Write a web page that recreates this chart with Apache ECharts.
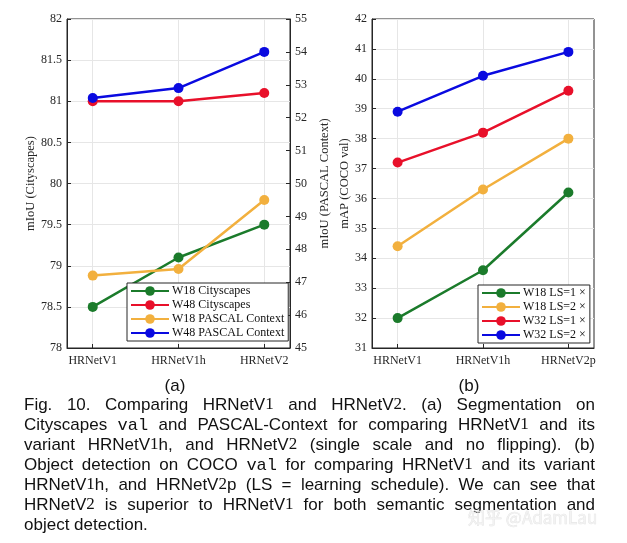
<!DOCTYPE html>
<html lang="en">
<head>
  <meta charset="UTF-8">
  <title>HRNetV1 vs HRNetV2</title>
  <style>
    html, body { margin: 0; padding: 0; background: #fff; }
    #chart { width: 627px; height: 543px; }
  </style>
</head>
<body>
  <div id="chart"></div>
  <script src="https://cdn.jsdelivr.net/npm/echarts@6/dist/echarts.min.js"></script>
  <script>
    // --- data ---
    const segCategories = ['HRNetV1', 'HRNetV1h', 'HRNetV2']
    const detCategories = ['HRNetV1', 'HRNetV1h', 'HRNetV2p']

    const w18Cityscapes = [78.5, 79.1, 79.5]
    const w48Cityscapes = [81.0, 81.0, 81.1]
    const w18Pascal = [47.2, 47.4, 49.5]
    const w48Pascal = [52.6, 52.9, 54.0]

    const w18LS1 = [32.0, 33.6, 36.2]
    const w18LS2 = [34.4, 36.3, 38.0]
    const w32LS1 = [37.2, 38.2, 39.6]
    const w32LS2 = [38.9, 40.1, 40.9]

    const segNames = ['W18 Cityscapes', 'W48 Cityscapes', 'W18 PASCAL Context', 'W48 PASCAL Context']
    const detNames = ['W18 LS=1 ×', 'W18 LS=2 ×', 'W32 LS=1 ×', 'W32 LS=2 ×']

    const GREEN = '#1b7b2b', RED = '#e8102a', ORANGE = '#f2b03e', BLUE = '#0a0ae0'
    const INK = '#262626'
    const SERIF = '"Liberation Serif", "DejaVu Serif", serif'
    const SANS = '"Liberation Sans", Arial, sans-serif'
    const MONO = '"Liberation Mono", "DejaVu Sans Mono", monospace'

    const pairs = arr => arr.map((v, i) => [i, v])

    function xAxisFor(gridIndex, cats) {
      return {
        type: 'value', gridIndex: gridIndex, min: -0.3, max: 2.3,
        axisLine: { show: true, onZero: false, lineStyle: { color: INK } },
        axisTick: { show: true, inside: true, length: 4, customValues: [0, 1, 2], lineStyle: { color: INK } },
        axisLabel: {
          customValues: [0, 1, 2], margin: 7,
          formatter: v => cats[Math.round(v)] || '',
          fontFamily: SERIF, fontSize: 12, color: INK
        },
        splitLine: { show: true, lineStyle: { color: '#e6e6e6' } }
      }
    }

    function yAxisFor(gridIndex, min, max, interval, name, gap, pos, grid) {
      return {
        type: 'value', gridIndex: gridIndex, position: pos,
        min: min, max: max, interval: interval,
        name: name, nameLocation: 'middle', nameGap: gap,
        nameTextStyle: { fontFamily: SERIF, fontSize: 12.5, color: INK },
        axisLine: { show: true, onZero: false, lineStyle: { color: INK } },
        axisTick: { show: true, inside: true, length: 4, lineStyle: { color: INK } },
        axisLabel: { margin: 5, fontFamily: SERIF, fontSize: 12, color: INK },
        splitLine: { show: grid, lineStyle: { color: '#e6e6e6' } }
      }
    }

    function lineSeries(name, data, color, xi, yi) {
      return {
        name: name, type: 'line', xAxisIndex: xi, yAxisIndex: yi,
        data: pairs(data), symbol: 'circle', symbolSize: 10,
        lineStyle: { width: 2.5, color: color },
        itemStyle: { color: color },
        emphasis: { disabled: true }, animation: false
      }
    }

    function legendFor(names, left, top) {
      return {
        data: names, orient: 'vertical', left: left, top: top,
        itemWidth: 38, itemHeight: 12, itemGap: 2,
        padding: [2, 4, 2, 3],
        backgroundColor: '#fff', borderColor: INK, borderWidth: 1,
        textStyle: { fontFamily: SERIF, fontSize: 12, color: '#111', padding: [0, 0, 0, -2] },
        selectedMode: false
      }
    }

    // --- caption, justified word by word ---
    // {m|..} = monospace, {d|..} = serif digits, other text = sans
    const captionLines = [
      'Fig. 10. Comparing HRNetV{d|1} and HRNetV{d|2}. (a) Segmentation on',
      'Cityscapes {m|val} and PASCAL-Context for comparing HRNetV{d|1} and its',
      'variant HRNetV{d|1}h, and HRNetV{d|2} (single scale and no flipping). (b)',
      'Object detection on COCO {m|val} for comparing HRNetV{d|1} and its variant',
      'HRNetV{d|1}h, and HRNetV{d|2}p (LS = learning schedule). We can see that',
      'HRNetV{d|2} is superior to HRNetV{d|1} for both semantic segmentation and',
      'object detection.'
    ]
    const CAP_FONT = 17
    const fontOf = { s: SANS, m: MONO, d: SERIF }
    const ctx = document.createElement('canvas').getContext('2d')
    function measure(t, kind) {
      ctx.font = CAP_FONT + 'px ' + fontOf[kind]
      return ctx.measureText(t).width
    }
    function segmentsOf(word) {
      const out = []
      const re = /\{(\w)\|([^}]*)\}/g
      let last = 0, m
      while ((m = re.exec(word)) !== null) {
        if (m.index > last) out.push({ t: word.slice(last, m.index), k: 's' })
        out.push({ t: m[2], k: m[1] })
        last = re.lastIndex
      }
      if (last < word.length) out.push({ t: word.slice(last), k: 's' })
      return out
    }

    function captionGraphics() {
      const left = 24, right = 595, top0 = 405, step = 20
      const els = []
      captionLines.forEach((line, li) => {
        const words = line.split(' ').map(w => {
          const segs = segmentsOf(w)
          segs.forEach(s => { s.w = measure(s.t, s.k) })
          return { segs: segs, w: segs.reduce((a, s) => a + s.w, 0) }
        })
        const total = words.reduce((a, w) => a + w.w, 0)
        const last = li === captionLines.length - 1
        const gap = last ? measure(' ', 's') : (right - left - total) / (words.length - 1)
        let x = left
        words.forEach(w => {
          let sx = x
          w.segs.forEach(s => {
            els.push({
              type: 'text', x: sx, y: top0 + li * step, silent: true,
              style: {
                text: s.t, fontSize: CAP_FONT, fontFamily: fontOf[s.k],
                fill: '#111', align: 'left', verticalAlign: 'middle'
              }
            })
            sx += s.w
          })
          x += w.w + gap
        })
      })
      return els
    }

    const graphics = [
      { type: 'text', x: 175, y: 386, silent: true,
        style: { text: '(a)', fontSize: 17, fontFamily: SANS, fill: '#111', align: 'center', verticalAlign: 'middle' } },
      { type: 'text', x: 469, y: 386, silent: true,
        style: { text: '(b)', fontSize: 17, fontFamily: SANS, fill: '#111', align: 'center', verticalAlign: 'middle' } },
      { type: 'text', x: 468, y: 518, silent: true, z: 10,
        style: { text: '知乎 @AdamLau', fontSize: 17, fontFamily: '"Noto Sans CJK SC", "Noto Sans", sans-serif',
          fill: 'rgba(240,240,240,0.8)', stroke: 'rgba(190,190,190,0.45)', lineWidth: 0.6,
          align: 'left', verticalAlign: 'middle' } }
    ].concat(captionGraphics())

    const chart = echarts.init(document.getElementById('chart'), null, { renderer: 'canvas' })
    chart.setOption({
      backgroundColor: '#fff',
      animation: false,
      grid: [
        { left: 67, top: 19, width: 223, height: 329, show: true, borderColor: INK, borderWidth: 1, backgroundColor: 'transparent' },
        { left: 372, top: 19, width: 222, height: 329, show: true, borderColor: INK, borderWidth: 1, backgroundColor: 'transparent' }
      ],
      xAxis: [xAxisFor(0, segCategories), xAxisFor(1, detCategories)],
      yAxis: [
        yAxisFor(0, 78, 82, 0.5, 'mIoU (Cityscapes)', 28, 'left', true),
        yAxisFor(0, 45, 55, 1, 'mIoU (PASCAL Context)', 28, 'right', false),
        yAxisFor(1, 31, 42, 1, 'mAP (COCO val)', 16, 'left', true)
      ],
      legend: [legendFor(segNames, 127, 283), legendFor(detNames, 478, 285)],
      series: [
        lineSeries(segNames[0], w18Cityscapes, GREEN, 0, 0),
        lineSeries(segNames[1], w48Cityscapes, RED, 0, 0),
        lineSeries(segNames[2], w18Pascal, ORANGE, 0, 1),
        lineSeries(segNames[3], w48Pascal, BLUE, 0, 1),
        lineSeries(detNames[0], w18LS1, GREEN, 1, 2),
        lineSeries(detNames[1], w18LS2, ORANGE, 1, 2),
        lineSeries(detNames[2], w32LS1, RED, 1, 2),
        lineSeries(detNames[3], w32LS2, BLUE, 1, 2)
      ],
      graphic: graphics
    })
  </script>
</body>
</html>
